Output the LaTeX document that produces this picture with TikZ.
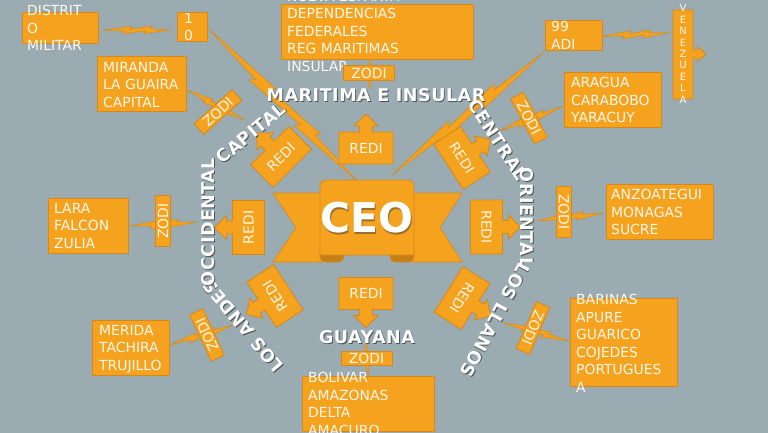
\documentclass[tikz,border=0pt]{standalone}
\usepackage{fontspec}
\setmainfont{DejaVu Sans}
\newfontfamily\ringfont[LetterSpace=3]{DejaVu Sans Bold}
\usetikzlibrary{calc}
\definecolor{bgc}{RGB}{154,172,178}
\definecolor{org}{RGB}{245,163,30}
\definecolor{orgd}{RGB}{214,136,26}
\definecolor{curlc}{RGB}{196,128,22}
\definecolor{txtc}{RGB}{255,247,236}
\definecolor{shad}{RGB}{60,60,60}
\tikzset{
 box/.style={fill=org, draw=orgd, line width=0.8pt},
 btxt/.style={text=txtc, font=\fontsize{13.9}{17.6}\selectfont, align=left, inner sep=0pt, anchor=north west},
 zodi/.style={box, minimum width=51pt, minimum height=14.5pt, inner sep=0pt, text=txtc, font=\fontsize{13.9}{14}\selectfont},
 reditxt/.style={text=txtc, font=\fontsize{13.9}{14}\selectfont, inner sep=0pt},
 boltst/.style={fill=org, draw=orgd, line width=0.5pt, line join=miter},
 ring/.style={text=white, font=\ringfont\fontsize{17.5}{17.5}\selectfont, inner sep=0pt},
 ringsh/.style={text=shad, opacity=0.8, font=\ringfont\fontsize{17.5}{17.5}\selectfont, inner sep=0pt},
}
\newcommand\bolt[3]{%
 \pgfmathsetmacro\bwA{2.6*#3}%
 \pgfmathsetmacro\bwB{0.6*#3}%
 \pgfmathsetmacro\bwC{2.8*#3}%
 \pgfmathsetmacro\bwD{0.8*#3}%
 \filldraw[boltst] (#1) -- ($(#1)!0.42!(#2)!\bwA pt!90:(#2)$) -- ($(#1)!0.40!(#2)!\bwB pt!90:(#2)$) -- ($(#1)!0.72!(#2)!\bwC pt!90:(#2)$) -- ($(#1)!0.70!(#2)!\bwD pt!90:(#2)$) -- (#2) -- ($(#1)!0.60!(#2)!\bwA pt!-90:(#2)$) -- ($(#1)!0.62!(#2)!\bwB pt!-90:(#2)$) -- ($(#1)!0.30!(#2)!\bwC pt!-90:(#2)$) -- ($(#1)!0.32!(#2)!\bwD pt!-90:(#2)$) -- cycle;}
\newcommand\redi[5]{%
 \begin{scope}[shift={(#2,#3)}, rotate=#4]
 \filldraw[box] (-27,-16) -- (-6.5,-16) -- (-6.5,-22) -- (-12,-22) -- (0,-34) -- (12,-22) -- (6.5,-22) -- (6.5,-16) -- (27,-16) -- (27,16) -- (-27,16) -- cycle;
 \node[reditxt, rotate=#5] (#1) at (0,0) {REDI};
 \end{scope}}
\newcommand\ringlabel[5]{%
 \node[ringsh, rotate=#4] at (#2+0.9,#3+0.9) {#5};
 \node[ring, rotate=#4] (#1) at (#2,#3) {#5};}
\begin{document}
\begin{tikzpicture}[x=1pt,y=-1pt]
\useasboundingbox (0,0) rectangle (768,433);
\clip (0,0) rectangle (768,433);
\fill[bgc] (0,0) rectangle (768,433);
% bolt end points
\coordinate (b1a) at (103,30); \coordinate (b1b) at (171,30);
\coordinate (b2a) at (209,29); \coordinate (b2b) at (358,182);
\coordinate (b3a) at (187,90); \coordinate (b3b) at (245,120);
\coordinate (b4a) at (370,58); \coordinate (b4b) at (370,89);
\coordinate (b5a) at (544,52); \coordinate (b5b) at (392,175);
\coordinate (b6a) at (603,36); \coordinate (b6b) at (669,33);
\coordinate (b7a) at (563,106); \coordinate (b7b) at (500,131);
\coordinate (b8a) at (130,226); \coordinate (b8b) at (197,222);
\coordinate (b9a) at (604,213); \coordinate (b9b) at (537,221);
\coordinate (b10a) at (170,345); \coordinate (b10b) at (233,325);
\coordinate (b11a) at (570,341); \coordinate (b11b) at (503,323);
\coordinate (b12a) at (369,376); \coordinate (b12b) at (365,342);
\bolt{b1a}{b1b}{1.4}
\bolt{b2a}{b2b}{2.4}
\bolt{b3a}{b3b}{1.4}
\bolt{b4a}{b4b}{1.1}
\bolt{b5a}{b5b}{2.4}
\bolt{b6a}{b6b}{1.4}
\bolt{b7a}{b7b}{1.4}
\bolt{b8a}{b8b}{1.4}
\bolt{b9a}{b9b}{1.4}
\bolt{b10a}{b10b}{1.4}
\bolt{b11a}{b11b}{1.4}
\bolt{b12a}{b12b}{1.1}
% boxes
\filldraw[box] (22,12) rectangle (98,43);
\filldraw[box] (177,12) rectangle (207,41);
\filldraw[box] (97,56) rectangle (186,111);
\filldraw[box] (281,4) rectangle (473,59);
\filldraw[box] (545,20) rectangle (602,50);
\filldraw[box] (564,72) rectangle (661,127);
\filldraw[box] (48,198) rectangle (128,253);
\filldraw[box] (606,184) rectangle (713,239);
\filldraw[box] (570,298) rectangle (677,386);
\filldraw[box] (92,320) rectangle (169,375);
\filldraw[box] (302,376) rectangle (434,431);
\filldraw[box] (673,10) -- (693,10) -- (693,50) -- (698,50) -- (698,46.5) -- (705.5,54) -- (698,61.5) -- (698,58) -- (693,58) -- (693,99) -- (673,99) -- cycle;
% box texts
\node[btxt] (tdist) at (27,4.9) {DISTRIT\\O\\MILITAR};
\node[btxt] (tten) at (184,12.9) {1\\0};
\node[btxt] (tmir) at (103,61.9) {MIRANDA\\LA GUAIRA\\CAPITAL};
\node[btxt] (tnue) at (287,-9.4) {NUEVA ESPARTA\\DEPENDENCIAS\\FEDERALES\\REG MARITIMAS\\INSULAR};
\node[btxt] (t99) at (551,20.9) {99\\ADI};
\node[btxt] (tara) at (571,76.9) {ARAGUA\\CARABOBO\\YARACUY};
\node[btxt] (tlara) at (54,202.9) {LARA\\FALCON\\ZULIA};
\node[btxt] (tanz) at (611,188.9) {ANZOATEGUI\\MONAGAS\\SUCRE};
\node[btxt] (tbar) at (576,293.9) {BARINAS\\APURE\\GUARICO\\COJEDES\\PORTUGUES\\A};
\node[btxt] (tmer) at (99,324.9) {MERIDA\\TACHIRA\\TRUJILLO};
\node[btxt] (tbol) at (308,371.9) {BOLIVAR\\AMAZONAS\\DELTA\\AMACURO};
\node[text=txtc, font=\fontsize{10}{11.4}\selectfont, align=center, inner sep=0pt, anchor=north] (tven) at (683,4.4) {V\\E\\N\\E\\Z\\U\\E\\L\\A};
% ZODI
\node[zodi] (ztop) at (369,73) {ZODI};
\node[zodi, rotate=42] (zul) at (218,112) {ZODI};
\node[zodi, rotate=-62] (zur) at (529,118) {ZODI};
\node[zodi, rotate=90] (zl) at (163,221) {ZODI};
\node[zodi, rotate=-90] (zr) at (564,212) {ZODI};
\node[zodi, rotate=115] (zll) at (207,335) {ZODI};
\node[zodi, rotate=-113] (zlr) at (533,328) {ZODI};
\node[zodi] (zb) at (366.5,358.5) {ZODI};
% REDI
\redi{rtop}{366}{148}{0}{0}
\redi{rul}{281}{157}{45}{45}
\redi{rur}{462}{158}{-57}{-57}
\redi{rl}{248.5}{227.5}{90}{90}
\redi{rr}{486.5}{227}{-90}{-90}
\redi{rll}{275}{296}{123}{123}
\redi{rlr}{462}{298}{-122}{-122}
\redi{rb}{366}{293.5}{180}{0}
% ring labels
\ringlabel{lmar}{376}{95}{0}{MARITIMA E INSULAR}
\ringlabel{lcap}{251}{133}{40}{CAPITAL}
\ringlabel{lcen}{498}{140}{-57}{CENTRAL}
\ringlabel{lori}{527}{218}{-90}{ORIENTAL}
\ringlabel{llla}{495}{320}{-118}{LOS LLANOS}
\ringlabel{lguy}{367}{337}{0}{GUAYANA}
\ringlabel{land}{243}{326}{130}{LOS ANDES}
\ringlabel{locc}{208}{222}{90}{OCCIDENTAL}
% CEO ribbon
\filldraw[fill=org, draw=orgd, line width=0.6pt] (273,193) -- (322,193) -- (322,262) -- (273,262) -- (296,227.5) -- cycle;
\filldraw[fill=org, draw=orgd, line width=0.6pt] (462,193) -- (412,193) -- (412,262) -- (462,262) -- (440,227.5) -- cycle;
\filldraw[fill=curlc, draw=orgd, line width=0.6pt, rounded corners=5pt] (320,246) rectangle (344,262);
\filldraw[fill=curlc, draw=orgd, line width=0.6pt, rounded corners=5pt] (390,246) rectangle (414,262);
\filldraw[fill=org, draw=orgd, line width=0.6pt] (320,255) [rounded corners=6pt]-- (320,180) -- (414,180) [sharp corners]-- (414,255) -- cycle;
\node[text=shad, opacity=0.5, font=\bfseries\fontsize{41}{41}\selectfont, inner sep=0pt] at (368,219.5) {CEO};
\node[text=white, font=\bfseries\fontsize{41}{41}\selectfont, inner sep=0pt] (ceo) at (367,218) {CEO};
\end{tikzpicture}
\end{document}
